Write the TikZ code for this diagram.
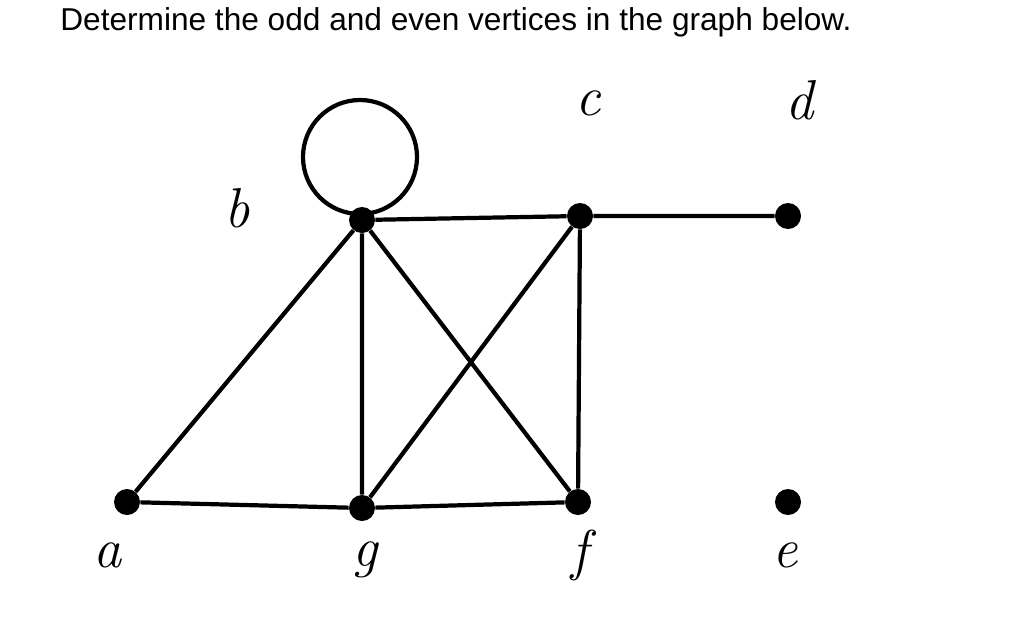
\documentclass[tikz,border=0pt]{standalone}
\usepackage{fontspec}
\newfontfamily\titlefont{Liberation Sans}
\begin{document}
\begin{tikzpicture}[x=0.02cm,y=-0.02cm,
  vtx/.style={circle,fill=black,inner sep=0pt,minimum size=0.52cm},
  lbl/.style={font=\fontsize{32}{38}\selectfont\itshape},
  edge/.style={line width=2.4pt}]
\useasboundingbox (0,0) rectangle (1031,640);
\node[anchor=base west,inner sep=0pt,font=\titlefont\fontsize{18}{21}\selectfont] (title) at (60,30) {Determine the odd and even vertices in the graph below.};
\node[vtx] (b) at (362,220) {};
\node[vtx] (c) at (580,216) {};
\node[vtx] (d) at (788,216) {};
\node[vtx] (a) at (127,502) {};
\node[vtx] (g) at (362,508) {};
\node[vtx] (f) at (578,502) {};
\node[vtx] (e) at (788,502) {};
\draw[edge] (360,157) circle (57*0.02cm);
\draw[edge] (a)--(b) (a)--(g) (g)--(f) (b)--(g) (b)--(c) (c)--(d) (b)--(f) (g)--(c) (c)--(f);
\node[lbl] (lb) at (237,208) {b};
\node[lbl] (lc) at (588,103) {c};
\node[lbl] (ld) at (800,100) {d};
\node[lbl] (la) at (108,555) {a};
\node[lbl] (lg) at (365,560) {g};
\node[lbl] (lf) at (580,555) {f};
\node[lbl] (le) at (785,555) {e};
\end{tikzpicture}
\end{document}
